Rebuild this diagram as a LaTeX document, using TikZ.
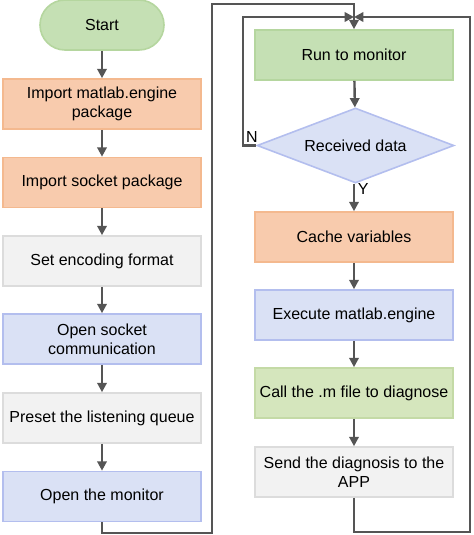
\documentclass[tikz,border=0pt]{standalone}
\usepackage{fontspec}
\setmainfont{Liberation Sans}
\usetikzlibrary{arrows.meta, shapes.geometric}

\definecolor{peach}{HTML}{F8CBAD}
\definecolor{peachline}{HTML}{F4B98F}
\definecolor{leaf}{HTML}{C5E0B4}
\definecolor{leafline}{HTML}{B5D69F}
\definecolor{olive}{HTML}{D5E6BD}
\definecolor{oliveline}{HTML}{C4DAA6}
\definecolor{mist}{HTML}{F2F2F2}
\definecolor{mistline}{HTML}{DCDCDC}
\definecolor{sky}{HTML}{DAE1F5}
\definecolor{skyline}{HTML}{B3BEEE}
\definecolor{flowline}{HTML}{555555}

\tikzset{
    stepbox/.style={rectangle, draw=#1line, fill=#1, line width=1.2pt,
        minimum width=148.5pt, minimum height=37.5pt, inner sep=2pt,
        align=center, font=\fontsize{12}{14.4}\selectfont},
    flow/.style={->, draw=flowline, line width=1.8pt}
}

\begin{document}
\begin{tikzpicture}[>={Triangle[length=7pt,width=7pt]}, x=0.75pt, y=-0.75pt]
        \useasboundingbox (0,0) rectangle (474,535);
        % left column
        \node[stepbox=leaf, rounded corners=18.75pt, minimum width=93pt] (start) at (102,25) {Start};
        \node[stepbox=peach] (engine) at (102,104) {Import matlab.engine\\package};
        \node[stepbox=peach] (socket) at (102,182.5) {Import socket package};
        \node[stepbox=mist] (encode) at (102,261) {Set encoding format};
        \node[stepbox=sky] (comm) at (102,339) {Open socket\\communication};
        \node[stepbox=mist] (queue) at (102,418) {Preset the listening queue};
        \node[stepbox=sky] (monitor) at (102,496.5) {Open the monitor};
        % right column
        \node[stepbox=leaf] (run) at (354,55) {Run to monitor};
        \node[stepbox=sky, diamond, aspect=2.63, minimum width=147.75pt, minimum height=56.25pt, inner sep=0pt] (data) at (355.5,145.5) {Received data};
        \node[stepbox=peach] (cache) at (354,237) {Cache variables};
        \node[stepbox=sky] (exec) at (354,315) {Execute matlab.engine};
        \node[stepbox=olive] (call) at (354,393) {Call the .m file to diagnose};
        \node[stepbox=mist] (send) at (354,472) {Send the diagnosis to the\\APP};
        % corners of the long connectors
        \coordinate (down) at (212,533);
        \coordinate (up) at (212,4);
        \coordinate (join) at (354,17);
        \coordinate (noleft) at (243,17);
        \coordinate (back) at (470,532);
        \draw[flow] (start) -- (engine);
        \draw[flow] (engine) -- (socket);
        \draw[flow] (socket) -- (encode);
        \draw[flow] (encode) -- (comm);
        \draw[flow] (comm) -- (queue);
        \draw[flow] (queue) -- (monitor);
        \draw[flow] (monitor.south) |- (down) -- (up) -| (run.north);
        \draw[flow] (run) -- (data);
        \draw[flow] (data.west) -| (noleft) -- (join);
        \draw[flow] (data.south -| cache.north) -- node[right, pos=0.2, font=\fontsize{12}{14}\selectfont, inner sep=2pt]{Y} (cache);
        \draw[flow] (cache) -- (exec);
        \draw[flow] (exec) -- (call);
        \draw[flow] (call) -- (send);
        \draw[flow] (send.south) |- (back) |- (join);
        \node[font=\fontsize{12}{14}\selectfont] (no) at (252,137) {N};
    \end{tikzpicture}
\end{document}
